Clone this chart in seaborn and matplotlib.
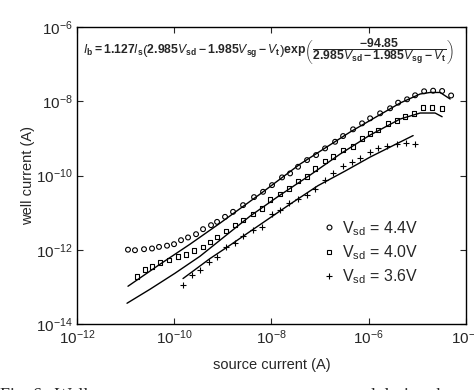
import matplotlib
matplotlib.use("Agg")
import matplotlib.pyplot as plt
import numpy as np
import seaborn as sns
from matplotlib.lines import Line2D

# log10 of currents (source current, well current)
v44_logx = [-10.951, -10.807, -10.621, -10.457, -10.313, -10.148, -10.004, -9.860,
            -9.716, -9.551, -9.407, -9.243, -9.119, -8.955, -8.790, -8.584, -8.358,
            -8.173, -7.988, -7.782, -7.617, -7.453, -7.268, -7.082, -6.897, -6.691,
            -6.527, -6.321, -6.136, -5.971, -5.765, -5.560, -5.395, -5.210, -5.045,
            -4.860, -4.675, -4.490, -4.305]
v44_logy = [-11.997, -12.011, -11.984, -11.965, -11.922, -11.889, -11.849, -11.741,
            -11.668, -11.580, -11.445, -11.337, -11.248, -11.113, -10.978, -10.798,
            -10.582, -10.439, -10.259, -10.051, -9.943, -9.765, -9.585, -9.450,
            -9.270, -9.092, -8.938, -8.757, -8.596, -8.461, -8.326, -8.191, -8.040,
            -7.949, -7.841, -7.733, -7.717, -7.725, -7.846]

v40_logx = [-10.765, -10.601, -10.457, -10.292, -10.107, -9.922, -9.757, -9.593,
            -9.407, -9.263, -9.119, -8.934, -8.749, -8.584, -8.379, -8.193, -8.029,
            -7.823, -7.638, -7.453, -7.268, -7.103, -6.897, -6.733, -6.527, -6.321,
            -6.136, -5.971, -5.807, -5.601, -5.416, -5.251, -5.066, -4.881, -4.696,
            -4.490]
v40_logy = [-12.725, -12.523, -12.442, -12.348, -12.280, -12.186, -12.119, -12.024,
            -11.930, -11.795, -11.660, -11.499, -11.337, -11.202, -11.040, -10.887,
            -10.644, -10.501, -10.348, -10.151, -10.035, -9.809, -9.612, -9.496,
            -9.315, -9.226, -9.000, -8.865, -8.776, -8.596, -8.526, -8.412, -8.326,
            -8.164, -8.164, -8.191]

v36_logx = [-9.819, -9.634, -9.469, -9.284, -9.119, -8.934, -8.749, -8.584, -8.379,
            -8.193, -7.988, -7.823, -7.638, -7.453, -7.268, -7.103, -6.897, -6.733,
            -6.527, -6.342, -6.177, -5.971, -5.807, -5.621, -5.416, -5.230, -5.045]
v36_logy = [-12.954, -12.685, -12.550, -12.334, -12.199, -11.930, -11.830, -11.633,
            -11.472, -11.383, -11.040, -10.933, -10.744, -10.644, -10.528, -10.367,
            -10.124, -9.922, -9.747, -9.639, -9.539, -9.369, -9.270, -9.194, -9.154,
            -9.119, -9.162]

# model curves
fit44_logx = [-10.951, -10.292, -9.675, -9.058, -8.235, -7.412, -6.383, -5.354,
              -4.942, -4.737, -4.531, -4.325]
fit44_logy = [-12.981, -12.388, -11.849, -11.283, -10.501, -9.693, -8.830, -8.049,
              -7.806, -7.765, -7.765, -7.941]
fit40_logx = [-10.971, -10.498, -9.984, -9.469, -8.955, -8.440, -7.823, -7.206,
              -6.588, -5.971, -5.354, -4.942, -4.634, -4.490]
fit40_logy = [-13.439, -13.062, -12.631, -12.173, -11.633, -11.094, -10.528, -9.989,
              -9.423, -8.911, -8.480, -8.318, -8.318, -8.418]
fit36_logx = [-9.819, -9.263, -8.852, -8.235, -7.617, -7.041, -6.486, -5.971,
              -5.457, -5.086]
fit36_logy = [-12.774, -12.235, -11.876, -11.323, -10.771, -10.272, -9.881, -9.504,
              -9.167, -8.925]

legend_labels = [r"V$_{\rm sd}$ = 4.4V", r"V$_{\rm sd}$ = 4.0V", r"V$_{\rm sd}$ = 3.6V"]
x_ticks = [1e-12, 1e-10, 1e-8, 1e-6, 1e-4]
y_ticks = [1e-14, 1e-12, 1e-10, 1e-8, 1e-6]

sns.set_style("ticks")
plt.rcParams["font.family"] = ["Liberation Sans", "DejaVu Sans"]
plt.rcParams["mathtext.fontset"] = "custom"
plt.rcParams["mathtext.rm"] = "Liberation Sans"
plt.rcParams["mathtext.it"] = "Liberation Sans:italic"
plt.rcParams["mathtext.bf"] = "Liberation Sans:bold"

fig = plt.figure(figsize=(4.74, 3.90), dpi=100)
ax = fig.add_axes([0.1624, 0.169, 0.8206, 0.762])

for lx, ly in [(fit44_logx, fit44_logy), (fit40_logx, fit40_logy), (fit36_logx, fit36_logy)]:
    sns.lineplot(x=np.power(10.0, lx), y=np.power(10.0, ly), color="black",
                 linewidth=1.0, sort=False, estimator=None, ax=ax)

sns.scatterplot(x=np.power(10.0, v44_logx), y=np.power(10.0, v44_logy), marker="o",
                s=12, facecolors="none", edgecolor="black", linewidth=0.8, ax=ax)
sns.scatterplot(x=np.power(10.0, v40_logx), y=np.power(10.0, v40_logy), marker="s",
                s=11, facecolors="none", edgecolor="black", linewidth=0.8, ax=ax)
sns.scatterplot(x=np.power(10.0, v36_logx), y=np.power(10.0, v36_logy), marker="+",
                s=16, color="black", linewidth=0.8, ax=ax)

ax.set_xscale("log")
ax.set_yscale("log")
ax.set_xlim(1e-12, 1e-4)
ax.set_ylim(1e-14, 1e-6)
ax.set_xticks(x_ticks)
ax.set_yticks(y_ticks)
ax.minorticks_off()
ax.tick_params(direction="in", top=True, right=True, length=4, width=0.8,
               labelsize=11, pad=3)
for sp in ax.spines.values():
    sp.set_visible(True)
    sp.set_linewidth(1.0)
    sp.set_color("black")

ax.set_xlabel("source current (A)", fontsize=10.5, labelpad=8)
ax.set_ylabel("well current (A)", fontsize=10.5, labelpad=1)

handles = [
    Line2D([], [], marker="o", linestyle="none", markersize=3.5, markerfacecolor="none",
           markeredgecolor="black", markeredgewidth=0.8),
    Line2D([], [], marker="s", linestyle="none", markersize=3.5, markerfacecolor="none",
           markeredgecolor="black", markeredgewidth=0.8),
    Line2D([], [], marker="+", linestyle="none", markersize=4.5, color="black",
           markeredgewidth=0.8),
]
ax.legend(handles, legend_labels, loc="upper left", bbox_to_anchor=(0.62, 0.375),
          frameon=False, fontsize=11.5, handlelength=0.6, handletextpad=0.5,
          labelspacing=0.35, borderaxespad=0)

eq = (r"$\mathbf{\mathit{I}_b = 1.127\mathit{I}_s\left(2.985\mathit{V}_{sd} - 1.985\mathit{V}_{sg}"
      r" - \mathit{V}_t\right)exp\left(\dfrac{-94.85}{2.985\mathit{V}_{sd} - 1.985\mathit{V}_{sg}"
      r" - \mathit{V}_t}\right)}$")
ax.text(0.015, 0.915, eq, transform=ax.transAxes, fontsize=8.8, ha="left", va="center")

fig.text(0.0, 0.006, "Fig. 6.  Well current versus source current measured during the",
         family="Liberation Serif", fontsize=13, ha="left", va="top")

fig.savefig("out.png", dpi=100)
